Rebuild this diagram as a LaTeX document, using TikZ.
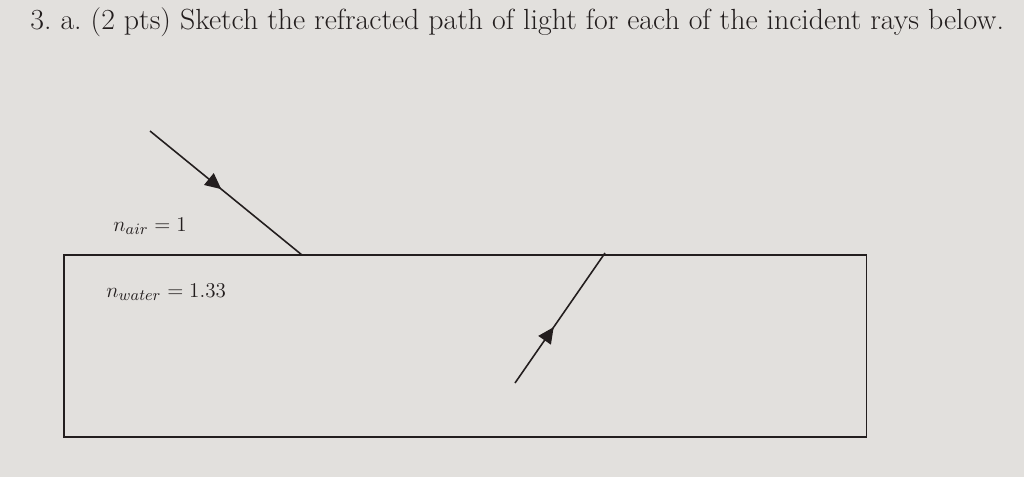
\documentclass[tikz,border=0pt]{standalone}
\usepackage{amsmath}
\usetikzlibrary{arrows.meta,decorations.markings}
\definecolor{paper}{RGB}{226,224,221}
\definecolor{ink}{RGB}{35,30,30}
\tikzset{
  ray/.style={draw=ink, line width=0.9pt, postaction={decorate},
    decoration={markings, mark=at position #1 with {\arrow{Triangle[length=0.32cm,width=0.3cm]}}}},
  label/.style={text=ink, font=\fontsize{13}{15}\selectfont, inner sep=0pt}
}
\begin{document}
\begin{tikzpicture}[x=0.02cm, y=-0.02cm]
        \fill[paper] (0,0) rectangle (1024,477);
        \useasboundingbox (0,0) rectangle (1024,477);
        % Nodes
        \node (title) [anchor=west, text=ink, inner sep=0pt, font=\fontsize{15.8}{18}\selectfont] at (30,22) {\scalebox{1.075}[1.05]{3.\ a.\ (2 pts) Sketch the refracted path of light for each of the incident rays below.}};
        \node (water) [draw=ink, line width=0.9pt, minimum width=16.06cm, minimum height=3.64cm, anchor=north west, inner sep=0pt] at (63,254) {};
        \node (nair) [label, anchor=west] at (113,226) {$n_{air} = 1$};
        \node (nwater) [label, anchor=west] at (106,292) {$n_{water} = 1.33$};
        \coordinate (in1) at (150,131);
        \coordinate (hit1) at (302,255);
        \coordinate (in2) at (515,383);
        \coordinate (hit2) at (605,253);
        % Edges
        \path[ray=0.47] (in1) -- (hit1);
        \path[ray=0.43] (in2) -- (hit2);
    \end{tikzpicture}
\end{document}
